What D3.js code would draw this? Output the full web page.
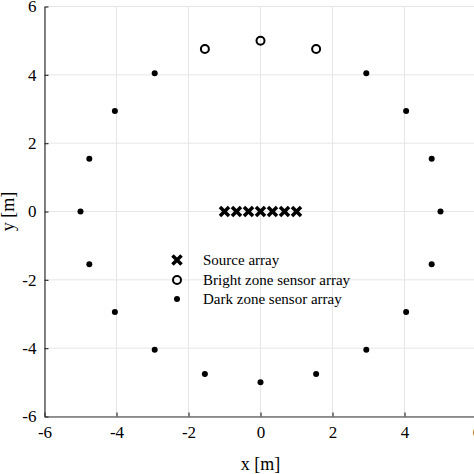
<!DOCTYPE html><html><head><meta charset="utf-8"><script src="https://d3js.org/d3.v7.min.js"></script>
<style>body{margin:0;background:#fff}svg{font-family:"Liberation Serif","Times New Roman",serif}</style></head><body><svg width="474" height="474"></svg><script>
const ticks=[-6,-4,-2,0,2,4,6];
const sourceX=[-1,-0.667,-0.333,0,0.333,0.667,1];
const sourceY=[0,0,0,0,0,0,0];
const brightX=[-1.545,0,1.545];
const brightY=[4.755,5,4.755];
const darkX=[2.939,4.045,4.755,5,4.755,4.045,2.939,1.545,0,-1.545,-2.939,-4.045,-4.755,-5,-4.755,-4.045,-2.939];
const darkY=[4.045,2.939,1.545,0,-1.545,-2.939,-4.045,-4.755,-5,-4.755,-4.045,-2.939,-1.545,0,1.545,2.939,4.045];
const svg=d3.select("svg");
const x=d3.scaleLinear().domain([-6,6]).range([44.5,476.5]);
const y=d3.scaleLinear().domain([-6,6]).range([416.5,6.5]);
const g=svg.append("g");
g.selectAll(".gx").data(ticks).join("line").attr("x1",d=>x(d)).attr("x2",d=>x(d)).attr("y1",y(-6)).attr("y2",y(6)).attr("stroke","#e6e6e6");
g.selectAll(".gy").data(ticks).join("line").attr("y1",d=>y(d)).attr("y2",d=>y(d)).attr("x1",x(-6)).attr("x2",x(6)).attr("stroke","#e6e6e6");
const fmt=d=>String(d);
const ax=svg.append("g").attr("transform",`translate(0,${y(-6)})`).call(d3.axisBottom(x).tickValues(ticks).tickFormat(fmt).tickSizeInner(-4).tickSizeOuter(0).tickPadding(9));
const ay=svg.append("g").attr("transform",`translate(${x(-6)},0)`).call(d3.axisLeft(y).tickValues(ticks).tickFormat(fmt).tickSizeInner(-4).tickSizeOuter(0).tickPadding(8));
[ax,ay].forEach(a=>{a.attr("font-family",null).attr("font-size",null);a.selectAll("text").attr("font-size",17).attr("fill","#000");a.selectAll("line,path").attr("stroke","#333").attr("stroke-width",1.2);});
svg.append("text").attr("x",x(0)).attr("y",470).attr("text-anchor","middle").attr("font-size",18).text("x [m]");
svg.append("text").attr("transform",`translate(14,${y(0)}) rotate(-90)`).attr("text-anchor","middle").attr("font-size",18).text("y [m]");
const cross=d3.symbol().type(d3.symbolX).size(55);
svg.selectAll(".s").data(sourceX).join("path").attr("transform",(d,i)=>`translate(${x(d)},${y(sourceY[i])})`).attr("d",cross).attr("stroke","#000").attr("stroke-width",3.5);
svg.selectAll(".b").data(brightX).join("circle").attr("cx",d=>x(d)).attr("cy",(d,i)=>y(brightY[i])).attr("r",4).attr("fill","none").attr("stroke","#000").attr("stroke-width",2);
svg.selectAll(".d").data(darkX).join("circle").attr("cx",d=>x(d)).attr("cy",(d,i)=>y(darkY[i])).attr("r",3).attr("fill","#000");
const lg=svg.append("g").attr("font-size",15);
lg.append("path").attr("transform","translate(177,260)").attr("d",cross).attr("stroke","#000").attr("stroke-width",3.5);
lg.append("circle").attr("cx",177).attr("cy",280).attr("r",4).attr("fill","none").attr("stroke","#000").attr("stroke-width",2);
lg.append("circle").attr("cx",177).attr("cy",299).attr("r",3);
["Source array","Bright zone sensor array","Dark zone sensor array"].forEach((t,i)=>lg.append("text").attr("x",203).attr("y",265+i*19.5).text(t));
</script></body></html>
